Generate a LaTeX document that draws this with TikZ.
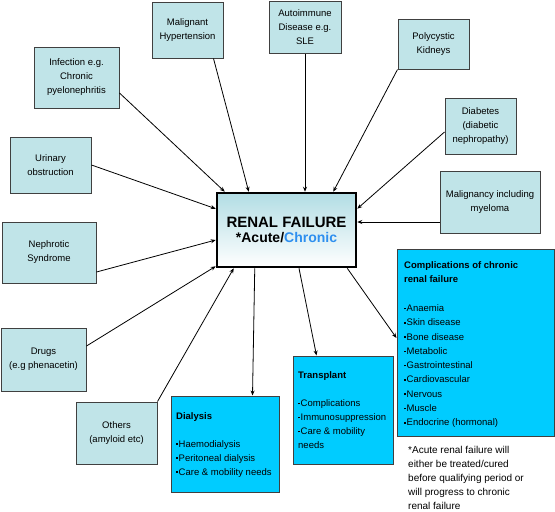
\documentclass[tikz,border=0pt]{standalone}
\usepackage{fontspec}
\setmainfont{Liberation Sans}
\usetikzlibrary{arrows.meta,calc}
\definecolor{teal1}{HTML}{C0E4E8}
\definecolor{cyanbox}{HTML}{00CCFF}
\definecolor{chron}{HTML}{2E8FEF}
\definecolor{edge}{HTML}{404040}
\definecolor{rtop}{HTML}{B2DDE4}
\newcommand{\bul}{\raisebox{2.2pt}{\rule{1.6pt}{1.6pt}}\hspace{0.9pt}}
\begin{document}
\begin{tikzpicture}[x=1pt,y=-1pt,
  cause/.style={draw=edge,line width=1pt,fill=teal1,inner sep=0pt,align=center,font=\fontsize{9.5}{14}\selectfont},
  treat/.style={draw=edge,line width=1pt,fill=cyanbox,inner sep=0pt},
  body/.style={anchor=north west,inner sep=0pt,align=left,font=\fontsize{9.5}{14}\selectfont},
  arr/.style={-{Stealth[length=5pt,width=4pt]},line width=0.8pt},
]
\useasboundingbox (0,0) rectangle (555,512);
\fill[white] (0,0) rectangle (555,512);

% causes
\node[cause,minimum width=71pt,minimum height=56pt] (mh) at (187.5,30) {Malignant\\Hypertension};
\node[cause,minimum width=72pt,minimum height=52pt] (auto) at (305,27) {Autoimmune\\Disease e.g.\\SLE};
\node[cause,minimum width=71pt,minimum height=50pt] (poly) at (433.5,44) {Polycystic\\Kidneys};
\node[cause,minimum width=71pt,minimum height=56pt] (diab) at (480.5,126) {Diabetes\\(diabetic\\nephropathy)};
\node[cause,minimum width=100pt,minimum height=62pt] (malig) at (490,202) {Malignancy including\\myeloma};
\node[cause,minimum width=85pt,minimum height=61pt] (inf) at (76.5,77.5) {Infection e.g.\\Chronic\\pyelonephritis};
\node[cause,minimum width=81pt,minimum height=56pt] (uro) at (50.5,165) {Urinary\\obstruction};
\node[cause,minimum width=94pt,minimum height=61pt] (neph) at (49,252.5) {Nephrotic\\Syndrome};
\node[cause,minimum width=85pt,minimum height=63pt] (drug) at (43.5,359.5) {Drugs\\(e.g phenacetin)};
\node[cause,minimum width=81pt,minimum height=62pt] (oth) at (116.5,433) {Others\\(amyloid etc)};

% central box
\node[draw=black,line width=2.5pt,top color=rtop,bottom color=white,minimum width=139pt,minimum height=74pt,align=center,inner sep=0pt] (renal) at (286.5,230)
  {{\fontsize{15}{18}\selectfont\bfseries RENAL FAILURE}\\[3pt]{\fontsize{14}{17}\selectfont\bfseries *Acute/\textcolor{chron}{Chronic}}};

% treatment boxes
\node[treat,minimum width=108pt,minimum height=96pt] (dial) at (225,444) {};
\node[body] (dialtxt) at (176,412) {\textbf{Dialysis}\\[14pt]\bul Haemodialysis\\\bul Peritoneal dialysis\\\bul Care \& mobility needs};

\node[treat,minimum width=100pt,minimum height=108pt] (trans) at (343,410) {};
\node[body] (transtxt) at (298,371.5) {\textbf{Transplant}\\[14pt]\bul Complications\\\bul Immunosuppression\\\bul Care \& mobility\\needs};

\node[treat,minimum width=157pt,minimum height=187pt] (comp) at (475.5,342.5) {};
\node[body,font=\fontsize{9.5}{14.3}\selectfont] (comptxt) at (404,261.5) {\textbf{Complications of chronic}\\\textbf{renal failure}\\[14.3pt]\bul Anaemia\\\bul Skin disease\\\bul Bone disease\\\bul Metabolic\\\bul Gastrointestinal\\\bul Cardiovascular\\\bul Nervous\\\bul Muscle\\\bul Endocrine (hormonal)};

\node[body,font=\fontsize{10}{14}\selectfont] (note) at (408,446) {*Acute renal failure will\\either be treated/cured\\before qualifying period or\\will progress to chronic\\renal failure};

% connectors
\draw[arr] ([xshift=-10pt]mh.south east) -- ([xshift=33pt]renal.north west);
\draw[arr] ([yshift=-15.5pt]inf.east) -- ([xshift=9pt]renal.north west);
\draw[arr] (uro.east) -- ([yshift=-17pt]renal.north west);
\draw[arr] ([yshift=-19.5pt]neph.east) -- ([yshift=-10pt]renal.west);
\draw[arr] ([yshift=13.5pt]drug.east) -- ([yshift=2pt]renal.south west);
\draw[arr] (oth.north east) -- ([xshift=18pt]renal.south west);
\draw[arr] (auto.south) -- (auto.south |- renal.north);
\draw[arr] (poly.south west) -- ([xshift=-24pt]renal.north east);
\draw[arr] ([yshift=-6pt]diab.west) -- ([yshift=-17pt]renal.north east);
\draw[arr] ([yshift=-20pt]malig.west) -- ([yshift=-20pt]malig.west -| renal.east);
\draw[arr] ([xshift=39pt]renal.south west) -- ([xshift=-27pt]dial.north east);
\draw[arr] ([xshift=12.5pt]renal.south) -- ([xshift=24pt]trans.north west);
\draw[arr] ([xshift=-10pt]renal.south east) -- ([yshift=4.5pt]comp.west);
\end{tikzpicture}
\end{document}
